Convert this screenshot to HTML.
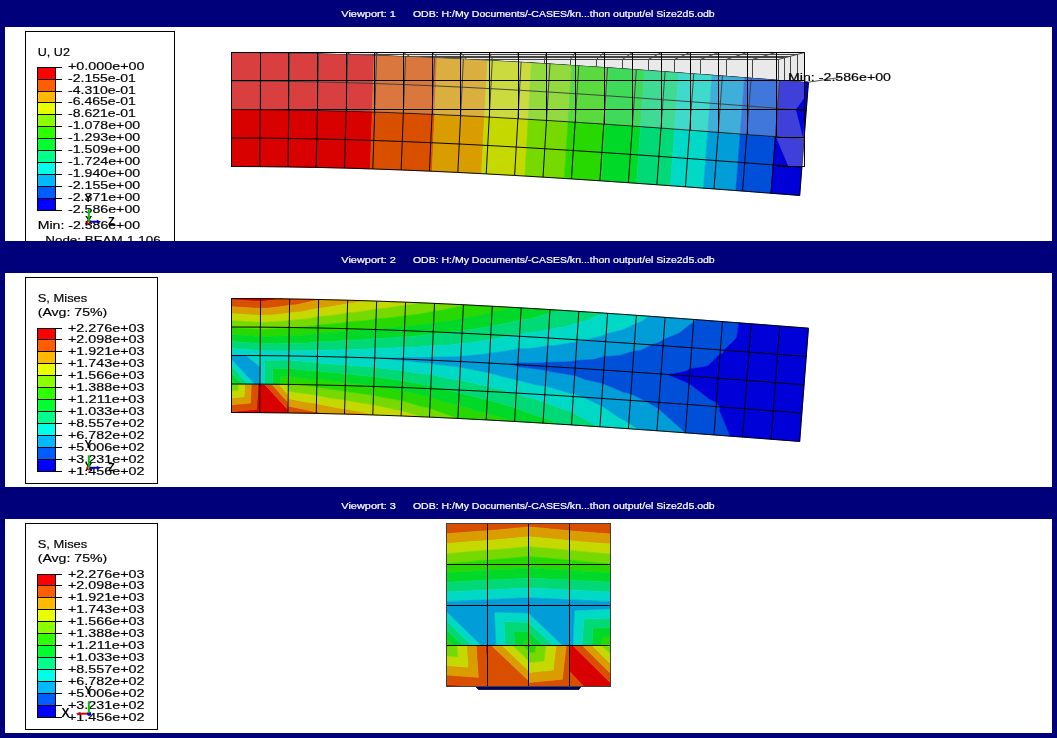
<!DOCTYPE html>
<html><head><meta charset="utf-8"><title>Abaqus viewports</title>
<style>
html,body{margin:0;padding:0;background:#00007b;}
body{width:1057px;height:738px;overflow:hidden;font-family:"Liberation Sans",sans-serif;}
svg{display:block;will-change:transform;font-family:"Liberation Sans",sans-serif;}
.hd{font-size:9.4px;fill:#ffffff;white-space:pre;stroke:#ffffff;stroke-width:0.22px;}
.lg{font-size:11.8px;fill:#000000;stroke:#000000;stroke-width:0.18px;}
.tr{font-size:11px;fill:#000000;font-weight:bold;}
</style></head><body>
<svg width="1057" height="738" viewBox="0 0 1057 738">
<defs><clipPath id="vp1"><rect x="5" y="27" width="1047" height="214"/></clipPath><clipPath id="vp2"><rect x="5" y="273" width="1047" height="214"/></clipPath><clipPath id="vp3"><rect x="5" y="519" width="1047" height="214"/></clipPath></defs>
<rect x="0" y="0" width="1057" height="738" fill="#00007b"/>
<rect x="5" y="27" width="1047" height="214" fill="#ffffff"/>
<rect x="5" y="273" width="1047" height="214" fill="#ffffff"/>
<rect x="5" y="519" width="1047" height="214" fill="#ffffff"/>
<text x="341.3" y="16.9" class="hd" textLength="54.6" lengthAdjust="spacingAndGlyphs">Viewport: 1</text>
<text x="412.9" y="16.9" class="hd" textLength="301.8" lengthAdjust="spacingAndGlyphs">ODB: H:/My Documents/-CASES/kn...thon output/el Size2d5.odb</text>
<text x="341.3" y="262.9" class="hd" textLength="54.6" lengthAdjust="spacingAndGlyphs">Viewport: 2</text>
<text x="412.9" y="262.9" class="hd" textLength="301.8" lengthAdjust="spacingAndGlyphs">ODB: H:/My Documents/-CASES/kn...thon output/el Size2d5.odb</text>
<text x="341.3" y="508.9" class="hd" textLength="54.6" lengthAdjust="spacingAndGlyphs">Viewport: 3</text>
<text x="412.9" y="508.9" class="hd" textLength="301.8" lengthAdjust="spacingAndGlyphs">ODB: H:/My Documents/-CASES/kn...thon output/el Size2d5.odb</text>
<g clip-path="url(#vp1)">
<path d="M231.5 52.5L260.58 52.62L260.36 81.11ZM231.5 52.5L260.36 81.11L231.5 81ZM231.5 81L260.36 81.11L260.15 109.61ZM231.5 81L260.15 109.61L231.5 109.5ZM231.5 109.5L260.15 109.61L259.94 138.1ZM231.5 109.5L259.94 138.1L231.5 138ZM231.5 138L259.94 138.1L259.72 166.6ZM231.5 138L259.72 166.6L231.5 166.5ZM260.58 52.62L289.63 52.95L289.21 81.44ZM260.58 52.62L289.21 81.44L260.36 81.11ZM260.36 81.11L289.21 81.44L288.8 109.92ZM260.36 81.11L288.8 109.92L260.15 109.61ZM260.15 109.61L288.8 109.92L288.38 138.41ZM260.15 109.61L288.38 138.41L259.94 138.1ZM259.94 138.1L288.38 138.41L287.96 166.9ZM259.94 138.1L287.96 166.9L259.72 166.6ZM289.63 52.95L318.65 53.49L318.05 81.96ZM289.63 52.95L318.05 81.96L289.21 81.44ZM289.21 81.44L318.05 81.96L317.44 110.44ZM289.21 81.44L317.44 110.44L288.8 109.92ZM288.8 109.92L317.44 110.44L316.83 138.92ZM288.8 109.92L316.83 138.92L288.38 138.41ZM288.38 138.41L316.83 138.92L316.23 167.39ZM288.38 138.41L316.23 167.39L287.96 166.9ZM318.65 53.49L347.66 54.21L346.87 82.67ZM318.65 53.49L346.87 82.67L318.05 81.96ZM318.05 81.96L346.87 82.67L346.08 111.14ZM318.05 81.96L346.08 111.14L317.44 110.44ZM317.44 110.44L346.08 111.14L345.3 139.61ZM317.44 110.44L345.3 139.61L316.83 138.92ZM316.83 138.92L345.3 139.61L344.51 168.07ZM316.83 138.92L344.51 168.07L316.23 167.39ZM347.66 54.21L374.12 55.03L373.24 81.01ZM347.66 54.21L373.24 81.01L373.18 83.49L346.87 82.67ZM346.87 82.67L373.18 83.49L372.3 109.47ZM346.87 82.67L372.3 109.47L372.23 111.94L346.08 111.14ZM346.08 111.14L372.23 111.94L371.36 137.93ZM346.08 111.14L371.36 137.93L371.29 140.4L345.3 139.61ZM345.3 139.61L371.29 140.4L370.42 166.38ZM345.3 139.61L370.42 166.38L370.35 168.85L344.51 168.07Z" fill="#d90000" stroke="#d90000" stroke-width="0.6" stroke-linejoin="round"/>
<path d="M374.12 55.03L376.63 55.11L375.68 83.56L373.24 81.01ZM373.24 81.01L375.68 83.56L373.18 83.49ZM373.18 83.49L375.68 83.56L374.72 112.02L372.3 109.47ZM372.3 109.47L374.72 112.02L372.23 111.94ZM372.23 111.94L374.72 112.02L373.77 140.47L371.36 137.93ZM371.36 137.93L373.77 140.47L371.29 140.4ZM371.29 140.4L373.77 140.47L372.81 168.93L370.42 166.38ZM370.42 166.38L372.81 168.93L370.35 168.85ZM376.63 55.11L405.59 56.17L404.47 84.62ZM376.63 55.11L404.47 84.62L375.68 83.56ZM375.68 83.56L404.47 84.62L403.36 113.06ZM375.68 83.56L403.36 113.06L374.72 112.02ZM374.72 112.02L403.36 113.06L402.24 141.5ZM374.72 112.02L402.24 141.5L373.77 140.47ZM373.77 140.47L402.24 141.5L401.13 169.95ZM373.77 140.47L401.13 169.95L372.81 168.93ZM405.59 56.17L434.52 57.39L433.26 85.82ZM405.59 56.17L433.26 85.82L404.47 84.62ZM404.47 84.62L433.26 85.82L431.99 114.26ZM404.47 84.62L431.99 114.26L403.36 113.06ZM403.36 113.06L431.99 114.26L430.73 142.69ZM403.36 113.06L430.73 142.69L402.24 141.5ZM402.24 141.5L430.73 142.69L429.47 171.12ZM402.24 141.5L429.47 171.12L401.13 169.95ZM434.52 57.39L437.28 57.52L437.15 60.24ZM434.52 57.39L437.15 60.24L436 85.95L433.26 85.82ZM433.26 85.82L436 85.95L435.87 88.67ZM433.26 85.82L435.87 88.67L434.73 114.38L431.99 114.26ZM431.99 114.26L434.73 114.38L434.6 117.1ZM431.99 114.26L434.6 117.1L433.45 142.81L430.73 142.69ZM430.73 142.69L433.45 142.81L433.32 145.53ZM430.73 142.69L433.32 145.53L432.18 171.25L429.47 171.12Z" fill="#d94f00" stroke="#d94f00" stroke-width="0.6" stroke-linejoin="round"/>
<path d="M437.28 57.52L463.42 58.75L462.03 87.17L437.15 60.24ZM437.15 60.24L462.03 87.17L436 85.95ZM436 85.95L462.03 87.17L460.63 115.59L435.87 88.67ZM435.87 88.67L460.63 115.59L434.73 114.38ZM434.73 114.38L460.63 115.59L459.23 144.01L434.6 117.1ZM434.6 117.1L459.23 144.01L433.45 142.81ZM433.45 142.81L459.23 144.01L457.83 172.43L433.32 145.53ZM433.32 145.53L457.83 172.43L432.18 171.25ZM463.42 58.75L487.6 60.01L486.33 83.79ZM463.42 58.75L486.33 83.79L486.1 88.42L462.03 87.17ZM462.03 87.17L486.1 88.42L484.82 112.2ZM462.03 87.17L484.82 112.2L484.6 116.83L460.63 115.59ZM460.63 115.59L484.6 116.83L483.32 140.61ZM460.63 115.59L483.32 140.61L483.09 145.24L459.23 144.01ZM459.23 144.01L483.09 145.24L481.82 169.02ZM459.23 144.01L481.82 169.02L481.59 173.65L457.83 172.43Z" fill="#d99d00" stroke="#d99d00" stroke-width="0.6" stroke-linejoin="round"/>
<path d="M487.6 60.01L492.31 60.25L490.78 88.66L486.33 83.79ZM486.33 83.79L490.78 88.66L486.1 88.42ZM486.1 88.42L490.78 88.66L489.26 117.06L484.82 112.2ZM484.82 112.2L489.26 117.06L484.6 116.83ZM484.6 116.83L489.26 117.06L487.73 145.47L483.32 140.61ZM483.32 140.61L487.73 145.47L483.09 145.24ZM483.09 145.24L487.73 145.47L486.21 173.88L481.82 169.02ZM481.82 169.02L486.21 173.88L481.59 173.65ZM492.31 60.25L521.16 61.86L519.53 90.26ZM492.31 60.25L519.53 90.26L490.78 88.66ZM490.78 88.66L519.53 90.26L517.89 118.66ZM490.78 88.66L517.89 118.66L489.26 117.06ZM489.26 117.06L517.89 118.66L516.25 147.05ZM489.26 117.06L516.25 147.05L487.73 145.47ZM487.73 145.47L516.25 147.05L514.61 175.45ZM487.73 145.47L514.61 175.45L486.21 173.88ZM521.16 61.86L531.52 62.48L530.89 72.68ZM521.16 61.86L530.89 72.68L529.84 90.88L519.53 90.26ZM519.53 90.26L529.84 90.88L529.22 101.07ZM519.53 90.26L529.22 101.07L528.17 119.27L517.89 118.66ZM517.89 118.66L528.17 119.27L527.54 129.46ZM517.89 118.66L527.54 129.46L526.49 147.66L516.25 147.05ZM516.25 147.05L526.49 147.66L525.87 157.85ZM516.25 147.05L525.87 157.85L524.82 176.05L514.61 175.45Z" fill="#c5d900" stroke="#c5d900" stroke-width="0.6" stroke-linejoin="round"/>
<path d="M531.52 62.48L550 63.59L548.26 91.97L530.89 72.68ZM530.89 72.68L548.26 91.97L529.84 90.88ZM529.84 90.88L548.26 91.97L546.51 120.36L529.22 101.07ZM529.22 101.07L546.51 120.36L528.17 119.27ZM528.17 119.27L546.51 120.36L544.77 148.74L527.54 129.46ZM527.54 129.46L544.77 148.74L526.49 147.66ZM526.49 147.66L544.77 148.74L543.03 177.13L525.87 157.85ZM525.87 157.85L543.03 177.13L524.82 176.05ZM550 63.59L571.63 64.96L570.25 86.26ZM550 63.59L570.25 86.26L569.82 93.33L548.26 91.97ZM548.26 91.97L569.82 93.33L568.44 114.63ZM548.26 91.97L568.44 114.63L568 121.71L546.51 120.36ZM546.51 120.36L568 121.71L566.63 143.01ZM546.51 120.36L566.63 143.01L566.19 150.08L544.77 148.74ZM544.77 148.74L566.19 150.08L564.81 171.39ZM544.77 148.74L564.81 171.39L564.38 178.46L543.03 177.13Z" fill="#76d900" stroke="#76d900" stroke-width="0.6" stroke-linejoin="round"/>
<path d="M571.63 64.96L578.81 65.41L576.97 93.78L570.25 86.26ZM570.25 86.26L576.97 93.78L569.82 93.33ZM569.82 93.33L576.97 93.78L575.14 122.16L568.44 114.63ZM568.44 114.63L575.14 122.16L568 121.71ZM568 121.71L575.14 122.16L573.3 150.53L566.63 143.01ZM566.63 143.01L573.3 150.53L566.19 150.08ZM566.19 150.08L573.3 150.53L571.47 178.9L564.81 171.39ZM564.81 171.39L571.47 178.9L564.38 178.46ZM578.81 65.41L607.59 67.32L605.68 95.68ZM578.81 65.41L605.68 95.68L576.97 93.78ZM576.97 93.78L605.68 95.68L603.76 124.05ZM576.97 93.78L603.76 124.05L575.14 122.16ZM575.14 122.16L603.76 124.05L601.84 152.41ZM575.14 122.16L601.84 152.41L573.3 150.53ZM573.3 150.53L601.84 152.41L599.93 180.77ZM573.3 150.53L599.93 180.77L571.47 178.9ZM607.59 67.32L609.13 67.43L609.03 68.95ZM607.59 67.32L609.03 68.95L607.21 95.79L605.68 95.68ZM605.68 95.68L607.21 95.79L607.11 97.31ZM605.68 95.68L607.11 97.31L605.29 124.15L603.76 124.05ZM603.76 124.05L605.29 124.15L605.18 125.67ZM603.76 124.05L605.18 125.67L603.37 152.51L601.84 152.41ZM601.84 152.41L603.37 152.51L603.26 154.03ZM601.84 152.41L603.26 154.03L601.45 180.87L599.93 180.77Z" fill="#27d900" stroke="#27d900" stroke-width="0.6" stroke-linejoin="round"/>
<path d="M609.13 67.43L636.35 69.31L634.37 97.66L609.03 68.95ZM609.03 68.95L634.37 97.66L607.21 95.79ZM607.21 95.79L634.37 97.66L632.38 126.01L607.11 97.31ZM607.11 97.31L632.38 126.01L605.29 124.15ZM605.29 124.15L632.38 126.01L630.39 154.36L605.18 125.67ZM605.18 125.67L630.39 154.36L603.37 152.51ZM603.37 152.51L630.39 154.36L628.4 182.71L603.26 154.03ZM603.26 154.03L628.4 182.71L601.45 180.87ZM636.35 69.31L644.59 69.9L644 78.02ZM636.35 69.31L644 78.02L642.59 98.24L634.37 97.66ZM634.37 97.66L642.59 98.24L642 106.37ZM634.37 97.66L642 106.37L640.58 126.59L632.38 126.01ZM632.38 126.01L640.58 126.59L639.99 134.71ZM632.38 126.01L639.99 134.71L638.58 154.94L630.39 154.36ZM630.39 154.36L638.58 154.94L637.99 163.06ZM630.39 154.36L637.99 163.06L636.57 183.29L628.4 182.71Z" fill="#00d927" stroke="#00d927" stroke-width="0.6" stroke-linejoin="round"/>
<path d="M644.59 69.9L665.09 71.36L663.04 99.7L644 78.02ZM644 78.02L663.04 99.7L642.59 98.24ZM642.59 98.24L663.04 99.7L661 128.04L642 106.37ZM642 106.37L661 128.04L640.58 126.59ZM640.58 126.59L661 128.04L658.95 156.38L639.99 134.71ZM639.99 134.71L658.95 156.38L638.58 154.94ZM638.58 154.94L658.95 156.38L656.9 184.72L637.99 163.06ZM637.99 163.06L656.9 184.72L636.57 183.29ZM665.09 71.36L678.76 72.36L677.76 85.85ZM665.09 71.36L677.76 85.85L676.69 100.7L663.04 99.7ZM663.04 99.7L676.69 100.7L675.69 114.18ZM663.04 99.7L675.69 114.18L674.62 129.03L661 128.04ZM661 128.04L674.62 129.03L673.62 142.52ZM661 128.04L673.62 142.52L672.55 157.37L658.95 156.38ZM658.95 156.38L672.55 157.37L671.55 170.86ZM658.95 156.38L671.55 170.86L670.48 185.71L656.9 184.72Z" fill="#00d976" stroke="#00d976" stroke-width="0.6" stroke-linejoin="round"/>
<path d="M678.76 72.36L693.81 73.46L691.71 101.8L677.76 85.85ZM677.76 85.85L691.71 101.8L676.69 100.7ZM676.69 100.7L691.71 101.8L689.61 130.13L675.69 114.18ZM675.69 114.18L689.61 130.13L674.62 129.03ZM674.62 129.03L689.61 130.13L687.52 158.46L673.62 142.52ZM673.62 142.52L687.52 158.46L672.55 157.37ZM672.55 157.37L687.52 158.46L685.42 186.79L671.55 170.86ZM671.55 170.86L685.42 186.79L670.48 185.71ZM693.81 73.46L711.98 74.82L710.62 92.76ZM693.81 73.46L710.62 92.76L709.86 103.15L691.71 101.8ZM691.71 101.8L709.86 103.15L708.5 121.09ZM691.71 101.8L708.5 121.09L707.73 131.48L689.61 130.13ZM689.61 130.13L707.73 131.48L706.38 149.42ZM689.61 130.13L706.38 149.42L705.61 159.8L687.52 158.46ZM687.52 158.46L705.61 159.8L704.26 177.74ZM687.52 158.46L704.26 177.74L703.49 188.13L685.42 186.79Z" fill="#00d9c5" stroke="#00d9c5" stroke-width="0.6" stroke-linejoin="round"/>
<path d="M711.98 74.82L722.49 75.61L720.36 103.93L710.62 92.76ZM710.62 92.76L720.36 103.93L709.86 103.15ZM709.86 103.15L720.36 103.93L718.22 132.26L708.5 121.09ZM708.5 121.09L718.22 132.26L707.73 131.48ZM707.73 131.48L718.22 132.26L716.09 160.58L706.38 149.42ZM706.38 149.42L716.09 160.58L705.61 159.8ZM705.61 159.8L716.09 160.58L713.96 188.9L704.26 177.74ZM704.26 177.74L713.96 188.9L703.49 188.13ZM722.49 75.61L744.51 77.28L742.85 99.03ZM722.49 75.61L742.85 99.03L742.35 105.6L720.36 103.93ZM720.36 103.93L742.35 105.6L740.69 127.35ZM720.36 103.93L740.69 127.35L740.2 133.92L718.22 132.26ZM718.22 132.26L740.2 133.92L738.54 155.66ZM718.22 132.26L738.54 155.66L738.04 162.24L716.09 160.58ZM716.09 160.58L738.04 162.24L736.38 183.98ZM716.09 160.58L736.38 183.98L735.89 190.55L713.96 188.9Z" fill="#009dd9" stroke="#009dd9" stroke-width="0.6" stroke-linejoin="round"/>
<path d="M744.51 77.28L751.16 77.79L749 106.1L742.85 99.03ZM742.85 99.03L749 106.1L742.35 105.6ZM742.35 105.6L749 106.1L746.84 134.42L740.69 127.35ZM740.69 127.35L746.84 134.42L740.2 133.92ZM740.2 133.92L746.84 134.42L744.67 162.74L738.54 155.66ZM738.54 155.66L744.67 162.74L738.04 162.24ZM738.04 162.24L744.67 162.74L742.51 191.05L736.38 183.98ZM736.38 183.98L742.51 191.05L735.89 190.55ZM751.16 77.79L779.8 79.99L777.62 108.3ZM751.16 77.79L777.62 108.3L749 106.1ZM749 106.1L777.62 108.3L775.44 136.6ZM749 106.1L775.44 136.6L746.84 134.42ZM746.84 134.42L775.44 136.6L773.27 164.91ZM746.84 134.42L773.27 164.91L744.67 162.74ZM744.67 162.74L773.27 164.91L771.09 193.22ZM744.67 162.74L771.09 193.22L742.51 191.05Z" fill="#004fd9" stroke="#004fd9" stroke-width="0.6" stroke-linejoin="round"/>
<path d="M779.8 79.99L779.8 79.99L777.62 108.3L777.62 108.3ZM777.62 108.3L777.62 108.3L777.62 108.3ZM777.62 108.3L777.62 108.3L775.44 136.6L775.44 136.6ZM775.44 136.6L775.44 136.6L775.44 136.6ZM775.44 136.6L775.44 136.6L773.27 164.91L773.27 164.91ZM773.27 164.91L773.27 164.91L773.27 164.91ZM773.27 164.91L773.27 164.91L771.09 193.22L771.09 193.22ZM771.09 193.22L771.09 193.22L771.09 193.22ZM779.8 79.99L808.42 82.19L806.23 110.5ZM779.8 79.99L806.23 110.5L777.62 108.3ZM777.62 108.3L806.23 110.5L804.05 138.8ZM777.62 108.3L804.05 138.8L775.44 136.6ZM775.44 136.6L804.05 138.8L801.87 167.1ZM775.44 136.6L801.87 167.1L773.27 164.91ZM773.27 164.91L801.87 167.1L799.68 195.41ZM773.27 164.91L799.68 195.41L771.09 193.22Z" fill="#0000d9" stroke="#0000d9" stroke-width="0.6" stroke-linejoin="round"/>
<path d="M231.5 52.5L260.58 52.62L289.63 52.95L318.65 53.49L347.66 54.21L376.63 55.11L405.59 56.17L434.52 57.39L463.42 58.75L492.31 60.25L521.16 61.86L550 63.59L578.81 65.41L607.59 67.32L636.35 69.31L665.09 71.36L693.81 73.46L722.49 75.61L751.16 77.79L779.8 79.99L808.42 82.19M231.5 81L260.36 81.11L289.21 81.44L318.05 81.96L346.87 82.67L375.68 83.56L404.47 84.62L433.26 85.82L462.03 87.17L490.78 88.66L519.53 90.26L548.26 91.97L576.97 93.78L605.68 95.68L634.37 97.66L663.04 99.7L691.71 101.8L720.36 103.93L749 106.1L777.62 108.3L806.23 110.5M231.5 109.5L260.15 109.61L288.8 109.92L317.44 110.44L346.08 111.14L374.72 112.02L403.36 113.06L431.99 114.26L460.63 115.59L489.26 117.06L517.89 118.66L546.51 120.36L575.14 122.16L603.76 124.05L632.38 126.01L661 128.04L689.61 130.13L718.22 132.26L746.84 134.42L775.44 136.6L804.05 138.8M231.5 138L259.94 138.1L288.38 138.41L316.83 138.92L345.3 139.61L373.77 140.47L402.24 141.5L430.73 142.69L459.23 144.01L487.73 145.47L516.25 147.05L544.77 148.74L573.3 150.53L601.84 152.41L630.39 154.36L658.95 156.38L687.52 158.46L716.09 160.58L744.67 162.74L773.27 164.91L801.87 167.1M231.5 166.5L259.72 166.6L287.96 166.9L316.23 167.39L344.51 168.07L372.81 168.93L401.13 169.95L429.47 171.12L457.83 172.43L486.21 173.88L514.61 175.45L543.03 177.13L571.47 178.9L599.93 180.77L628.4 182.71L656.9 184.72L685.42 186.79L713.96 188.9L742.51 191.05L771.09 193.22L799.68 195.41M231.5 52.5L231.5 166.5M260.58 52.62L259.72 166.6M289.63 52.95L287.96 166.9M318.65 53.49L316.23 167.39M347.66 54.21L344.51 168.07M376.63 55.11L372.81 168.93M405.59 56.17L401.13 169.95M434.52 57.39L429.47 171.12M463.42 58.75L457.83 172.43M492.31 60.25L486.21 173.88M521.16 61.86L514.61 175.45M550 63.59L543.03 177.13M578.81 65.41L571.47 178.9M607.59 67.32L599.93 180.77M636.35 69.31L628.4 182.71M665.09 71.36L656.9 184.72M693.81 73.46L685.42 186.79M722.49 75.61L713.96 188.9M751.16 77.79L742.51 191.05M779.8 79.99L771.09 193.22M808.42 82.19L799.68 195.41" stroke="#000" stroke-width="1" fill="none" opacity="0.95"/>
<clipPath id="ovc"><polygon points="231.5,52.5 804.5,52.5 804.5,138.5 804.05,138.8 775.44,136.6 746.84,134.42 718.22,132.26 689.61,130.13 661,128.04 632.38,126.01 603.76,124.05 575.14,122.16 546.51,120.36 517.89,118.66 489.26,117.06 460.63,115.59 431.99,114.26 403.36,113.06 374.72,112.02 346.08,111.14 317.44,110.44 288.8,109.92 260.15,109.61 231.5,109.5"/><polygon points="777.05,136.8 805.5,136.8 805.5,167.5 777.05,167.5"/></clipPath>
<path d="M231.5 52.5L260.58 52.62L289.63 52.95L318.65 53.49L347.66 54.21L376.63 55.11L405.59 56.17L434.52 57.39L463.42 58.75L492.31 60.25L521.16 61.86L550 63.59L578.81 65.41L607.59 67.32L636.35 69.31L665.09 71.36L693.81 73.46L722.49 75.61L751.16 77.79L779.8 79.99L804.5 82L804.5 138.8L804.05 138.8L775.44 136.6L746.84 134.42L718.22 132.26L689.61 130.13L661 128.04L632.38 126.01L603.76 124.05L575.14 122.16L546.51 120.36L517.89 118.66L489.26 117.06L460.63 115.59L431.99 114.26L403.36 113.06L374.72 112.02L346.08 111.14L317.44 110.44L288.8 109.92L260.15 109.61L231.5 109.5ZM804.5 98L796 109.3L804.5 109.9ZM796 109.7L804.5 110.3L803.2 138Z" fill="#dddddd" fill-opacity="0.285" fill-rule="evenodd"/>
<polygon points="776.35,138 804.5,138 804.5,166.5 788.35,166.5" fill="#dddddd" fill-opacity="0.285"/>
<clipPath id="wdg"><polygon points="231.5,52.5 804.5,52.5 804.5,82 808.42,82.19 779.8,79.99 751.16,77.79 722.49,75.61 693.81,73.46 665.09,71.36 636.35,69.31 607.59,67.32 578.81,65.41 550,63.59 521.16,61.86 492.31,60.25 463.42,58.75 434.52,57.39 405.59,56.17 376.63,55.11 347.66,54.21 318.65,53.49 289.63,52.95 260.58,52.62 231.5,52.5"/></clipPath>
<g clip-path="url(#wdg)">
<polygon points="231.5,52.5 804.5,52.5 804.5,82 808.42,82.19 779.8,79.99 751.16,77.79 722.49,75.61 693.81,73.46 665.09,71.36 636.35,69.31 607.59,67.32 578.81,65.41 550,63.59 521.16,61.86 492.31,60.25 463.42,58.75 434.52,57.39 405.59,56.17 376.63,55.11 347.66,54.21 318.65,53.49 289.63,52.95 260.58,52.62 231.5,52.5" fill="#e9e9e9"/>
<path d="M238.83 54.5H797.42M245.8 56.5H790.69M252.44 57.5H784.28M258.77 59.5H778.17" stroke="#444444" stroke-width="1" fill="none" shape-rendering="crispEdges"/>
<path d="M231.5 52.5L258.77 59.5M258.5 59.5V166.5M260.15 52.5L284.74 59.5M284.5 59.5V166.5M288.8 52.5L310.71 59.5M310.5 59.5V166.5M317.45 52.5L336.68 59.5M336.5 59.5V166.5M346.1 52.5L362.65 59.5M362.5 59.5V166.5M374.75 52.5L388.62 59.5M388.5 59.5V166.5M403.4 52.5L414.59 59.5M414.5 59.5V166.5M432.05 52.5L440.56 59.5M440.5 59.5V166.5M460.7 52.5L466.53 59.5M466.5 59.5V166.5M489.35 52.5L492.5 59.5M492.5 59.5V166.5M518 52.5L518.47 59.5M518.5 59.5V166.5M546.65 52.5L544.44 59.5M544.5 59.5V166.5M575.3 52.5L570.41 59.5M570.5 59.5V166.5M603.95 52.5L596.38 59.5M596.5 59.5V166.5M632.6 52.5L622.35 59.5M622.5 59.5V166.5M661.25 52.5L648.32 59.5M648.5 59.5V166.5M689.9 52.5L674.29 59.5M674.5 59.5V166.5M718.55 52.5L700.26 59.5M700.5 59.5V166.5M747.2 52.5L726.23 59.5M726.5 59.5V166.5M775.85 52.5L752.2 59.5M752.5 59.5V166.5M804.5 52.5L778.17 59.5M778.5 59.5V166.5M797.5 54.5V166.5M790.5 56.5V166.5M784.5 57.5V166.5" stroke="#444444" stroke-width="1" fill="none"/>
</g>
<path d="M231 52.5H805M231 80.5H805M231 109.5H805M231 137.5H805M231 166.5H805M231.5 52V167M260.5 52V167M288.5 52V167M317.5 52V167M346.5 52V167M374.5 52V167M403.5 52V167M432.5 52V167M460.5 52V167M489.5 52V167M518.5 52V167M546.5 52V167M575.5 52V167M604.5 52V167M632.5 52V167M661.5 52V167M690.5 52V167M718.5 52V167M747.5 52V167M776.5 52V167M804.5 52V167" stroke="#000" stroke-width="1" fill="none" clip-path="url(#ovc)"/>
<path d="M231 52.5H804.5V167" stroke="#000" stroke-width="1" fill="none"/>
<path d="M231.5 52.5V167" stroke="#000" stroke-width="1" fill="none"/>
<path d="M808.42 82.19L840 77.4" stroke="#404040" stroke-width="0.9"/>
<text x="788.0" y="80.9" class="lg" textLength="103" lengthAdjust="spacingAndGlyphs">Min: -2.586e+00</text>
<rect x="25.5" y="31.5" width="149" height="230" fill="#ffffff" stroke="#000" stroke-width="1"/>
<text x="37.7" y="55.8" class="lg" textLength="32.2" lengthAdjust="spacingAndGlyphs">U, U2</text>
<rect x="37.5" y="67.5" width="18" height="12.1" fill="#ff0000"/>
<rect x="37.5" y="79.5" width="18" height="12.1" fill="#ff5d00"/>
<rect x="37.5" y="91.5" width="18" height="11.1" fill="#ffb900"/>
<rect x="37.5" y="102.5" width="18" height="12.1" fill="#e8ff00"/>
<rect x="37.5" y="114.5" width="18" height="12.1" fill="#8bff00"/>
<rect x="37.5" y="126.5" width="18" height="12.1" fill="#2eff00"/>
<rect x="37.5" y="138.5" width="18" height="12.1" fill="#00ff2e"/>
<rect x="37.5" y="150.5" width="18" height="12.1" fill="#00ff8b"/>
<rect x="37.5" y="162.5" width="18" height="12.1" fill="#00ffe8"/>
<rect x="37.5" y="174.5" width="18" height="12.1" fill="#00b9ff"/>
<rect x="37.5" y="186.5" width="18" height="12.1" fill="#005dff"/>
<rect x="37.5" y="198.5" width="18" height="12.1" fill="#0000ff"/>
<path d="M37.5 67V211M55.5 67V211M37 67.5H62M37 79.5H62M37 91.5H62M37 102.5H62M37 114.5H62M37 126.5H62M37 138.5H62M37 150.5H62M37 162.5H62M37 174.5H62M37 186.5H62M37 198.5H62M37 210.5H62" stroke="#000" stroke-width="1" fill="none"/>
<text x="68" y="70.35" class="lg" textLength="76.5" lengthAdjust="spacingAndGlyphs">+0.000e+00</text>
<text x="68" y="82.35" class="lg" textLength="67.9" lengthAdjust="spacingAndGlyphs">-2.155e-01</text>
<text x="68" y="94.35" class="lg" textLength="67.9" lengthAdjust="spacingAndGlyphs">-4.310e-01</text>
<text x="68" y="105.35" class="lg" textLength="67.9" lengthAdjust="spacingAndGlyphs">-6.465e-01</text>
<text x="68" y="117.35" class="lg" textLength="67.9" lengthAdjust="spacingAndGlyphs">-8.621e-01</text>
<text x="68" y="129.35" class="lg" textLength="72.2" lengthAdjust="spacingAndGlyphs">-1.078e+00</text>
<text x="68" y="141.35" class="lg" textLength="72.2" lengthAdjust="spacingAndGlyphs">-1.293e+00</text>
<text x="68" y="153.35" class="lg" textLength="72.2" lengthAdjust="spacingAndGlyphs">-1.509e+00</text>
<text x="68" y="165.35" class="lg" textLength="72.2" lengthAdjust="spacingAndGlyphs">-1.724e+00</text>
<text x="68" y="177.35" class="lg" textLength="72.2" lengthAdjust="spacingAndGlyphs">-1.940e+00</text>
<text x="68" y="189.35" class="lg" textLength="72.2" lengthAdjust="spacingAndGlyphs">-2.155e+00</text>
<text x="68" y="201.35" class="lg" textLength="72.2" lengthAdjust="spacingAndGlyphs">-2.371e+00</text>
<text x="68" y="213.35" class="lg" textLength="72.2" lengthAdjust="spacingAndGlyphs">-2.586e+00</text>
<text x="37.7" y="228.8" class="lg" textLength="102.3" lengthAdjust="spacingAndGlyphs">Min: -2.586e+00</text>
<text x="45.3" y="243.5" class="lg" textLength="115.3" lengthAdjust="spacingAndGlyphs">Node: BEAM-1.106</text>
<text x="84.9" y="224.4" class="tr">X</text>
<circle cx="88.6" cy="222" r="1.7" fill="none" stroke="#e80000" stroke-width="1.2"/>
<path d="M88.8 221.7H97.8" stroke="#0000c8" stroke-width="2"/>
<path d="M101.2 221.7l-4.4 -1.9v3.8z" fill="#0000c8"/>
<path d="M88.8 222.2V209.2" stroke="#00c400" stroke-width="2"/>
<text x="84.4" y="201.5" class="tr">Y</text>
<text x="108" y="224.6" class="tr">Z</text>
</g>
<g clip-path="url(#vp2)">
<path d="M231.5 298.5L260.58 298.62L260.55 301.44L232.78 299.77ZM231.5 298.5L232.78 299.77L231.5 299.69ZM257.95 384.09L259.94 384.1L259.72 412.6L256.59 409.42ZM256.59 409.42L259.72 412.6L231.5 412.5L231.5 411.8ZM260.58 298.62L282.5 298.87L263.23 301.29ZM260.58 298.62L263.23 301.29L260.55 301.44ZM259.94 384.1L264.56 384.15L288.01 409.86L287.96 412.9ZM259.94 384.1L287.96 412.9L259.72 412.6Z" fill="#d90000" stroke="#d90000" stroke-width="0.6" stroke-linejoin="round"/>
<path d="M260.55 301.44L260.5 308.47L240.34 307.26L232.78 299.77ZM232.78 299.77L240.34 307.26L231.5 306.66L231.5 299.69ZM251.34 384.07L257.95 384.09L256.59 409.42L250.32 403.06ZM250.32 403.06L256.59 409.42L231.5 411.8L231.5 404.85ZM282.5 298.87L289.63 298.95L289.53 305.5L269.87 307.97L263.23 301.29ZM263.23 301.29L269.87 307.97L260.5 308.47L260.55 301.44ZM264.56 384.15L271.67 384.23L288.12 402.26L288.01 409.86ZM289.63 298.95L318.65 299.49L318.64 299.91L295.49 304.93ZM289.63 298.95L295.49 304.93L289.53 305.5ZM316.26 411.72L316.23 413.39L314.4 411.49ZM314.4 411.49L316.23 413.39L287.96 412.9L288.06 406.06ZM318.65 299.49L320.88 299.54L319.03 299.87ZM318.65 299.49L319.03 299.87L318.64 299.91ZM325.65 413.62L316.23 413.39L316.26 411.75Z" fill="#d94f00" stroke="#d94f00" stroke-width="0.6" stroke-linejoin="round"/>
<path d="M260.5 308.47L260.45 315.51L247.9 314.75L240.34 307.26ZM240.34 307.26L247.9 314.75L231.5 313.64L231.5 306.66ZM244.73 384.05L251.34 384.07L250.32 403.06L244.04 396.71ZM244.04 396.71L250.32 403.06L231.5 404.85L231.5 397.9ZM289.53 305.5L289.42 313.03L276.5 314.65L269.87 307.97ZM269.87 307.97L276.5 314.65L260.45 315.51L260.5 308.47ZM271.67 384.23L278.78 384.31L288.23 394.67L288.12 402.26ZM318.64 299.91L318.47 308.28L302.22 311.81L295.49 304.93ZM295.49 304.93L302.22 311.81L289.42 313.03L289.53 305.5ZM316.44 403.34L316.26 411.72L314.4 411.49L305.27 401.99ZM305.27 401.99L314.4 411.49L288.06 406.06L288.18 398.46ZM320.88 299.54L347.66 300.21L347.55 303.85L326.5 307.61L319.03 299.87ZM319.03 299.87L326.5 307.61L318.47 308.28L318.64 299.91ZM344.65 408.78L344.51 414.07L338.73 407.99ZM338.73 407.99L344.51 414.07L325.65 413.62L316.26 411.75L316.44 403.56ZM347.66 300.21L366.97 300.81L350.87 303.58ZM347.66 300.21L350.87 303.58L347.55 303.85ZM372.84 413.99L372.81 414.93L371.8 413.85ZM371.8 413.85L372.81 414.93L344.51 414.07L344.65 408.78ZM377.96 415.11L372.81 414.93L372.84 413.99Z" fill="#d99d00" stroke="#d99d00" stroke-width="0.6" stroke-linejoin="round"/>
<path d="M260.45 315.51L260.4 322.54L255.45 322.25L247.9 314.75ZM247.9 314.75L255.45 322.25L231.5 320.62L231.5 313.64ZM238.11 384.02L244.73 384.05L244.04 396.71L237.77 390.35ZM237.77 390.35L244.04 396.71L231.5 397.9L231.5 390.95ZM289.42 313.03L289.31 320.55L283.14 321.33L276.5 314.65ZM276.5 314.65L283.14 321.33L260.4 322.54L260.45 315.51ZM278.78 384.31L285.89 384.38L288.34 387.07L288.23 394.67ZM318.47 308.28L318.29 316.66L308.95 318.68L302.22 311.81ZM302.22 311.81L308.95 318.68L289.31 320.55L289.42 313.03ZM316.62 394.97L316.44 403.34L305.27 401.99L296.14 392.49ZM296.14 392.49L305.27 401.99L288.18 398.46L288.29 390.87ZM347.55 303.85L347.3 312.96L333.98 315.34L326.5 307.61ZM326.5 307.61L333.98 315.34L318.29 316.66L318.47 308.28ZM344.9 399.95L344.65 408.78L338.73 407.99L329.11 397.85ZM329.11 397.85L338.73 407.99L316.44 403.56L316.61 395.36ZM366.97 300.81L376.63 301.11L376.37 309L358.91 312L350.87 303.58ZM350.87 303.58L358.91 312L347.3 312.96L347.55 303.85ZM373.16 404.62L372.84 413.99L371.8 413.85L361.7 403.09ZM361.7 403.09L371.8 413.85L344.65 408.78L344.9 399.95ZM376.63 301.11L405.59 302.17L405.47 305.31L383.56 308.45ZM376.63 301.11L383.56 308.45L376.37 309ZM401.35 410.44L401.13 415.95L395.07 409.42ZM395.07 409.42L401.13 415.95L377.96 415.11L372.84 413.99L373.16 404.62ZM405.59 302.17L419.59 302.76L408.27 305.04ZM405.59 302.17L408.27 305.04L405.47 305.31ZM421.91 416.81L401.13 415.95L401.35 410.44Z" fill="#c5d900" stroke="#c5d900" stroke-width="0.6" stroke-linejoin="round"/>
<path d="M260.4 322.54L260.36 327.11L255.45 322.25ZM255.45 322.25L260.36 327.11L231.5 327L231.5 320.62ZM231.5 327L260.36 327.11L260.34 329.58L232.14 327.64ZM231.5 327L232.14 327.64L231.5 327.59ZM231.5 384L238.11 384.02L237.77 390.35ZM231.5 384L237.77 390.35L231.5 390.95ZM289.31 320.55L289.21 327.44L283.14 321.33ZM283.14 321.33L289.21 327.44L260.36 327.11L260.4 322.54ZM260.36 327.11L289.21 327.44L289.2 328.08L262.82 329.6ZM260.36 327.11L262.82 329.6L260.34 329.58ZM285.89 384.38L288.38 384.41L288.34 387.07ZM318.29 316.66L318.11 325.03L315.69 325.56L308.95 318.68ZM308.95 318.68L315.69 325.56L294.85 327.54L289.21 327.44L289.31 320.55ZM289.21 327.44L294.85 327.54L289.84 328.08ZM289.21 327.44L289.84 328.08L289.2 328.08ZM288.38 384.41L300.57 384.63L316.8 386.59L316.62 394.97L296.14 392.49ZM288.38 384.41L296.14 392.49L288.29 390.87ZM347.3 312.96L347.05 322.07L341.45 323.07L333.98 315.34ZM333.98 315.34L341.45 323.07L318.11 325.03L318.29 316.66ZM345.14 391.12L344.9 399.95L329.11 397.85L319.48 387.7ZM319.48 387.7L329.11 397.85L316.61 395.36L316.79 387.17ZM376.37 309L376.04 318.86L366.95 320.42L358.91 312ZM358.91 312L366.95 320.42L347.05 322.07L347.3 312.96ZM373.47 395.24L373.16 404.62L361.7 403.09L351.61 392.33ZM351.61 392.33L361.7 403.09L344.9 399.95L345.14 391.12ZM405.47 305.31L405.05 315.79L392.22 317.63L383.56 308.45ZM383.56 308.45L392.22 317.63L376.04 318.86L376.37 309ZM401.74 400.42L401.35 410.44L395.07 409.42L384.06 397.56ZM384.06 397.56L395.07 409.42L373.16 404.62L373.47 395.24ZM419.59 302.76L434.52 303.39L434.17 311.19L417.19 314.61L408.27 305.04ZM408.27 305.04L417.19 314.61L405.05 315.79L405.47 305.31ZM429.87 408.17L429.47 417.12L419.05 405.78ZM419.05 405.78L429.47 417.12L421.91 416.81L401.35 410.44L401.74 400.42ZM434.52 303.39L463.42 304.75L463.39 305.39L441.05 310.46ZM434.52 303.39L441.05 310.46L434.17 311.19ZM457.83 418.43L457.83 418.43L457.83 418.43ZM457.83 418.43L457.83 418.43L429.47 417.12L429.87 408.17ZM463.42 304.75L465.83 304.88L463.93 305.31ZM463.42 304.75L463.93 305.31L463.39 305.39ZM457.83 418.43L457.83 418.43L457.83 418.43Z" fill="#76d900" stroke="#76d900" stroke-width="0.6" stroke-linejoin="round"/>
<path d="M260.34 329.58L260.29 336.61L239.71 335.2L232.14 327.64ZM232.14 327.64L239.71 335.2L231.5 334.57L231.5 327.59ZM235.38 384.01L231.5 384L231.5 379.88ZM289.2 328.08L289.09 335.6L269.84 336.72L262.82 329.6ZM262.82 329.6L269.84 336.72L260.29 336.61L260.34 329.58ZM288.49 376.57L288.38 384.41L280.72 376.59ZM280.72 376.59L288.38 384.41L280.66 384.33ZM318.11 325.03L318.05 327.96L315.69 325.56ZM315.69 325.56L318.05 327.96L294.85 327.54ZM294.85 327.54L318.05 327.96L317.93 333.41L297.2 335.64L289.84 328.08ZM289.84 328.08L297.2 335.64L289.09 335.6L289.2 328.08ZM316.94 379.74L316.83 384.92L311.41 379.3ZM311.41 379.3L316.83 384.92L288.38 384.41L288.49 376.57ZM300.57 384.63L316.83 384.92L316.8 386.59ZM347.05 322.07L346.87 328.67L341.45 323.07ZM341.45 323.07L346.87 328.67L318.05 327.96L318.11 325.03ZM318.05 327.96L346.87 328.67L346.8 331.18L323.25 333.38ZM318.05 327.96L323.25 333.38L317.93 333.41ZM345.39 382.3L345.3 385.61L341.95 382.11ZM341.95 382.11L345.3 385.61L316.83 384.92L316.96 378.97ZM316.83 384.92L345.3 385.61L345.14 391.12L319.48 387.7ZM316.83 384.92L319.48 387.7L316.79 387.17ZM376.04 318.86L375.71 328.72L374.99 328.85L366.95 320.42ZM366.95 320.42L374.99 328.85L368.88 329.35L346.87 328.67L347.05 322.07ZM346.87 328.67L368.88 329.35L349.23 331.16ZM346.87 328.67L349.23 331.16L346.8 331.18ZM373.79 385.86L373.77 386.47L373.15 385.82ZM373.15 385.82L373.77 386.47L345.3 385.61L345.39 382.3ZM345.3 385.61L373.77 386.47L373.47 395.24L351.61 392.33ZM345.3 385.61L351.61 392.33L345.14 391.12ZM405.05 315.79L404.64 326.27L400.88 326.81L392.22 317.63ZM392.22 317.63L400.88 326.81L375.71 328.72L376.04 318.86ZM378.98 386.66L373.77 386.47L373.79 385.86ZM373.77 386.47L378.98 386.66L402.13 390.41L401.74 400.42L384.06 397.56ZM373.77 386.47L384.06 397.56L373.47 395.24ZM434.17 311.19L433.66 322.65L426.12 324.17L417.19 314.61ZM417.19 314.61L426.12 324.17L404.64 326.27L405.05 315.79ZM430.37 396.97L429.87 408.17L419.05 405.78L406.02 391.61ZM406.02 391.61L419.05 405.78L401.74 400.42L402.13 390.41ZM463.39 305.39L462.77 318.11L450.65 320.86L441.05 310.46ZM441.05 310.46L450.65 320.86L433.66 322.65L434.17 311.19ZM458.46 405.57L457.83 418.43L442.26 401.34ZM442.26 401.34L457.83 418.43L457.83 418.43L429.87 408.17L430.37 396.97ZM465.83 304.88L492.31 306.25L491.98 312.38L474.12 316.45L463.93 305.31ZM463.93 305.31L474.12 316.45L462.77 318.11L463.39 305.39ZM486.57 413.15L486.21 419.88L478.32 411.15ZM478.32 411.15L486.21 419.88L457.83 418.43L458.46 405.57ZM492.31 306.25L513.95 307.46L497.05 311.47ZM492.31 306.25L497.05 311.47L491.98 312.38ZM514.61 421.45L514.61 421.45L514.61 421.45ZM514.61 421.45L514.61 421.45L486.21 419.88L486.57 413.15ZM514.61 421.45L514.61 421.45L514.61 421.45Z" fill="#27d900" stroke="#27d900" stroke-width="0.6" stroke-linejoin="round"/>
<path d="M260.29 336.61L260.24 343.65L247.28 342.76L239.71 335.2ZM239.71 335.2L247.28 342.76L231.5 341.55L231.5 334.57ZM241.84 384.04L235.38 384.01L231.5 379.88L231.5 373.01ZM289.09 335.6L288.98 343.13L276.86 343.83L269.84 336.72ZM269.84 336.72L276.86 343.83L260.24 343.65L260.29 336.61ZM288.61 368.31L288.49 376.57L280.72 376.59L272.65 368.36ZM272.65 368.36L280.72 376.59L280.66 384.33L272.53 384.24ZM317.93 333.41L317.75 341.78L304.56 343.21L297.2 335.64ZM297.2 335.64L304.56 343.21L288.98 343.13L289.09 335.6ZM317.13 371.11L316.94 379.74L311.41 379.3L302.36 369.95ZM302.36 369.95L311.41 379.3L288.49 376.57L288.61 368.31ZM346.8 331.18L346.55 340.29L331.26 341.72L323.25 333.38ZM323.25 333.38L331.26 341.72L317.75 341.78L317.93 333.41ZM345.63 373.47L345.39 382.3L341.95 382.11L333.04 372.77ZM333.04 372.77L341.95 382.11L316.96 378.97L317.13 370.78ZM375.71 328.72L375.68 329.56L374.99 328.85ZM374.99 328.85L375.68 329.56L368.88 329.35ZM368.88 329.35L375.68 329.56L375.37 338.59L357.81 340.2L349.23 331.16ZM349.23 331.16L357.81 340.2L346.55 340.29L346.8 331.18ZM374.1 376.49L373.79 385.86L373.15 385.82L363.65 375.76ZM363.65 375.76L373.15 385.82L345.39 382.3L345.63 373.47ZM404.64 326.27L404.47 330.62L400.88 326.81ZM400.88 326.81L404.47 330.62L375.68 329.56L375.71 328.72ZM375.68 329.56L404.47 330.62L404.23 336.74L384 338.43ZM375.68 329.56L384 338.43L375.37 338.59ZM402.52 380.39L402.24 387.5L394.95 379.69ZM394.95 379.69L402.24 387.5L378.98 386.66L373.79 385.86L374.1 376.49ZM378.98 386.66L402.24 387.5L402.13 390.41ZM433.66 322.65L433.26 331.82L426.12 324.17ZM426.12 324.17L433.26 331.82L404.47 330.62L404.64 326.27ZM404.47 330.62L433.26 331.82L433.16 334.12L410.09 336.67ZM404.47 330.62L410.09 336.67L404.23 336.74ZM430.86 385.78L430.73 388.69L427.76 385.46ZM427.76 385.46L430.73 388.69L402.24 387.5L402.52 380.39ZM402.24 387.5L430.73 388.69L430.37 396.97L406.02 391.61ZM402.24 387.5L406.02 391.61L402.13 390.41ZM462.77 318.11L462.14 330.82L460.25 331.25L450.65 320.86ZM450.65 320.86L460.25 331.25L448.2 332.53L433.26 331.82L433.66 322.65ZM433.26 331.82L448.2 332.53L435.35 334.1ZM433.26 331.82L435.35 334.1L433.16 334.12ZM446.5 389.42L430.73 388.69L430.86 385.78ZM430.73 388.69L446.5 389.42L459.1 392.72L458.46 405.57L442.26 401.34ZM430.73 388.69L442.26 401.34L430.37 396.97ZM491.98 312.38L491.25 326.01L484.31 327.58L474.12 316.45ZM474.12 316.45L484.31 327.58L462.14 330.82L462.77 318.11ZM487.29 399.69L486.57 413.15L478.32 411.15L462.54 393.68ZM462.54 393.68L478.32 411.15L458.46 405.57L459.1 392.72ZM513.95 307.46L521.16 307.86L520.46 320.02L507.57 323.08L497.05 311.47ZM497.05 311.47L507.57 323.08L491.25 326.01L491.98 312.38ZM515.41 407.66L514.61 421.45L497.92 402.83ZM497.92 402.83L514.61 421.45L514.61 421.45L486.57 413.15L487.29 399.69ZM521.16 307.86L550 309.59L549.8 312.88L530.86 318.64ZM521.16 307.86L530.86 318.64L520.46 320.02ZM543.37 417.61L543.03 423.13L536.38 415.66ZM536.38 415.66L543.03 423.13L514.61 421.45L515.41 407.66ZM550 309.59L559.6 310.2L552.57 312.47ZM550 309.59L552.57 312.47L549.8 312.88ZM558.34 424.08L543.03 423.13L543.37 417.61Z" fill="#00d927" stroke="#00d927" stroke-width="0.6" stroke-linejoin="round"/>
<path d="M260.24 343.65L260.19 350.68L254.85 350.32L247.28 342.76ZM247.28 342.76L254.85 350.32L231.5 348.52L231.5 341.55ZM248.3 384.06L241.84 384.04L231.5 373.01L231.5 366.14ZM288.98 343.13L288.87 350.66L283.88 350.95L276.86 343.83ZM276.86 343.83L283.88 350.95L260.19 350.68L260.24 343.65ZM288.74 360.05L288.61 368.31L272.65 368.36L264.59 360.13ZM264.59 360.13L272.65 368.36L272.53 384.24L264.41 384.15ZM317.75 341.78L317.57 350.16L311.92 350.77L304.56 343.21ZM304.56 343.21L311.92 350.77L288.87 350.66L288.98 343.13ZM317.31 362.48L317.13 371.11L302.36 369.95L293.32 360.6ZM293.32 360.6L302.36 369.95L288.61 368.31L288.74 360.05ZM346.55 340.29L346.3 349.4L339.27 350.05L331.26 341.72ZM331.26 341.72L339.27 350.05L317.57 350.16L317.75 341.78ZM345.87 364.64L345.63 373.47L333.04 372.77L324.13 363.44ZM324.13 363.44L333.04 372.77L317.13 370.78L317.31 362.59ZM375.37 338.59L375.04 348.45L366.4 349.25L357.81 340.2ZM357.81 340.2L366.4 349.25L346.3 349.4L346.55 340.29ZM374.42 367.11L374.1 376.49L363.65 375.76L354.15 365.69ZM354.15 365.69L363.65 375.76L345.63 373.47L345.87 364.64ZM404.23 336.74L403.82 347.22L393.09 348.11L384 338.43ZM384 338.43L393.09 348.11L375.04 348.45L375.37 338.59ZM402.92 370.38L402.52 380.39L394.95 379.69L384.68 368.69ZM384.68 368.69L394.95 379.69L374.1 376.49L374.42 367.11ZM433.16 334.12L432.65 345.58L419.7 347.01L410.09 336.67ZM410.09 336.67L419.7 347.01L403.82 347.22L404.23 336.74ZM431.36 374.58L430.86 385.78L427.76 385.46L416.3 373.07ZM416.3 373.07L427.76 385.46L402.52 380.39L402.92 370.38ZM462.14 330.82L462.03 333.17L460.25 331.25ZM460.25 331.25L462.03 333.17L448.2 332.53ZM448.2 332.53L462.03 333.17L461.52 343.54L445.79 345.46L435.35 334.1ZM435.35 334.1L445.79 345.46L432.65 345.58L433.16 334.12ZM459.73 379.86L459.23 390.01L448.84 378.66ZM448.84 378.66L459.23 390.01L446.5 389.42L430.86 385.78L431.36 374.58ZM446.5 389.42L459.23 390.01L459.1 392.72ZM491.25 326.01L490.78 334.66L484.31 327.58ZM484.31 327.58L490.78 334.66L462.03 333.17L462.14 330.82ZM462.03 333.17L490.78 334.66L490.52 339.63L470.78 342.78ZM462.03 333.17L470.78 342.78L461.52 343.54ZM488.02 386.22L487.73 391.47L481.89 385.03ZM481.89 385.03L487.73 391.47L459.23 390.01L459.73 379.86ZM459.23 390.01L487.73 391.47L487.29 399.69L462.54 393.68ZM459.23 390.01L462.54 393.68L459.1 392.72ZM520.46 320.02L519.64 334.33L518.1 334.69L507.57 323.08ZM507.57 323.08L518.1 334.69L511.77 335.83L490.78 334.66L491.25 326.01ZM490.78 334.66L511.77 335.83L494.76 339.06ZM490.78 334.66L494.76 339.06L490.52 339.63ZM512.45 392.84L487.73 391.47L488.02 386.22ZM487.73 391.47L512.45 392.84L516.2 393.88L515.41 407.66L497.92 402.83ZM487.73 391.47L497.92 402.83L487.29 399.69ZM549.8 312.88L548.79 329.33L542.27 331.32L530.86 318.64ZM530.86 318.64L542.27 331.32L519.64 334.33L520.46 320.02ZM544.34 401.84L543.37 417.61L536.38 415.66L517.39 394.33ZM517.39 394.33L536.38 415.66L515.41 407.66L516.2 393.88ZM559.6 310.2L578.81 311.41L578.07 322.76L565.41 326.84L552.57 312.47ZM552.57 312.47L565.41 326.84L548.79 329.33L549.8 312.88ZM572.3 412.09L571.47 424.9L555.22 406.54ZM555.22 406.54L571.47 424.9L558.34 424.08L543.37 417.61L544.34 401.84ZM578.81 311.41L603.48 313.05L587.08 320.73ZM578.81 311.41L587.08 320.73L578.07 322.76ZM598.03 426.64L571.47 424.9L572.3 412.09Z" fill="#00d976" stroke="#00d976" stroke-width="0.6" stroke-linejoin="round"/>
<path d="M260.19 350.68L260.15 355.61L254.85 350.32ZM254.85 350.32L260.15 355.61L231.5 355.5L231.5 348.52ZM245.82 355.55L260.15 355.61L260.06 367.22ZM254.77 384.08L248.3 384.06L231.5 366.14L231.5 359.28ZM288.87 350.66L288.8 355.92L283.88 350.95ZM283.88 350.95L288.8 355.92L260.15 355.61L260.19 350.68ZM260.15 355.61L288.8 355.92L288.74 360.05L264.59 360.13ZM260.15 355.61L264.59 360.13L264.41 384.15L259.94 384.1ZM317.57 350.16L317.44 356.44L311.92 350.77ZM311.92 350.77L317.44 356.44L288.8 355.92L288.87 350.66ZM288.8 355.92L317.44 356.44L317.31 362.48L293.32 360.6ZM288.8 355.92L293.32 360.6L288.74 360.05ZM346.3 349.4L346.08 357.14L339.27 350.05ZM339.27 350.05L346.08 357.14L317.44 356.44L317.57 350.16ZM317.44 356.44L346.08 357.14L345.87 364.64L324.13 363.44ZM317.44 356.44L324.13 363.44L317.31 362.59ZM375.04 348.45L374.72 358.02L366.4 349.25ZM366.4 349.25L374.72 358.02L346.08 357.14L346.3 349.4ZM346.08 357.14L374.72 358.02L374.42 367.11L354.15 365.69ZM346.08 357.14L354.15 365.69L345.87 364.64ZM403.82 347.22L403.41 357.7L402.18 357.8L393.09 348.11ZM393.09 348.11L402.18 357.8L380.09 358.21L374.72 358.02L375.04 348.45ZM374.72 358.02L380.09 358.21L403.31 360.36L402.92 370.38L384.68 368.69ZM374.72 358.02L384.68 368.69L374.42 367.11ZM432.65 345.58L432.14 357.05L429.31 357.36L419.7 347.01ZM419.7 347.01L429.31 357.36L403.41 357.7L403.82 347.22ZM431.86 363.39L431.36 374.58L416.3 373.07L404.85 360.67ZM404.85 360.67L416.3 373.07L402.92 370.38L403.31 360.36ZM461.52 343.54L460.89 356.25L456.24 356.82L445.79 345.46ZM445.79 345.46L456.24 356.82L432.14 357.05L432.65 345.58ZM460.36 367L459.73 379.86L448.84 378.66L435.68 364.28ZM435.68 364.28L448.84 378.66L431.36 374.58L431.86 363.39ZM490.52 339.63L489.79 353.25L481.52 354.58L470.78 342.78ZM470.78 342.78L481.52 354.58L460.89 356.25L461.52 343.54ZM488.74 372.76L488.02 386.22L481.89 385.03L466.92 368.53ZM466.92 368.53L481.89 385.03L459.73 379.86L460.36 367ZM519.64 334.33L519.53 336.26L518.1 334.69ZM518.1 334.69L519.53 336.26L511.77 335.83ZM511.77 335.83L519.53 336.26L518.81 348.63L505.67 351.14L494.76 339.06ZM494.76 339.06L505.67 351.14L489.79 353.25L490.52 339.63ZM517 380.09L516.25 393.05L500.97 376.07ZM500.97 376.07L516.25 393.05L512.45 392.84L488.02 386.22L488.74 372.76ZM512.45 392.84L516.25 393.05L516.2 393.88ZM548.79 329.33L548.26 337.97L542.27 331.32ZM542.27 331.32L548.26 337.97L519.53 336.26L519.64 334.33ZM519.53 336.26L548.26 337.97L547.78 345.79L530.56 348.57ZM519.53 336.26L530.56 348.57L518.81 348.63ZM545.3 386.07L544.77 394.74L535.92 384.83ZM535.92 384.83L544.77 394.74L516.25 393.05L517 380.09ZM516.25 393.05L544.77 394.74L544.34 401.84L517.39 394.33ZM516.25 393.05L517.39 394.33L516.2 393.88ZM578.07 322.76L576.97 339.78L565.41 326.84ZM565.41 326.84L576.97 339.78L548.26 337.97L548.79 329.33ZM548.26 337.97L576.97 339.78L576.85 341.68L555.07 345.62ZM548.26 337.97L555.07 345.62L547.78 345.79ZM573.48 393.78L573.3 396.53L570.43 393.3ZM570.43 393.3L573.3 396.53L544.77 394.74L545.3 386.07ZM544.77 394.74L573.3 396.53L572.3 412.09L555.22 406.54ZM544.77 394.74L555.22 406.54L544.34 401.84ZM603.48 313.05L607.59 313.32L606.21 333.74L600.85 336.25L587.08 320.73ZM587.08 320.73L600.85 336.25L583.35 340.21L576.97 339.78L578.07 322.76ZM576.97 339.78L583.35 340.21L578.55 341.57ZM576.97 339.78L578.55 341.57L576.85 341.68ZM582.32 397.12L573.3 396.53L573.48 393.78ZM573.3 396.53L582.32 397.12L601.35 405.64L599.93 426.77ZM573.3 396.53L599.93 426.77L598.03 426.64L572.3 412.09ZM607.59 313.32L636.35 315.31L635.77 323.61L622.42 330.12ZM607.59 313.32L622.42 330.12L606.21 333.74ZM628.81 422.9L628.4 428.71L618.29 417.17ZM618.29 417.17L628.4 428.71L599.93 426.77L601.35 405.64ZM636.35 315.31L648.67 316.19L641.78 321.49ZM636.35 315.31L641.78 321.49L635.77 323.61ZM637.9 429.38L628.4 428.71L628.81 422.9Z" fill="#00d9c5" stroke="#00d9c5" stroke-width="0.6" stroke-linejoin="round"/>
<path d="M231.5 355.5L245.82 355.55L260.06 367.22L259.94 384.1ZM231.5 355.5L259.94 384.1L254.77 384.08L231.5 359.28ZM403.41 357.7L403.36 359.06L402.18 357.8ZM402.18 357.8L403.36 359.06L380.09 358.21ZM380.09 358.21L403.36 359.06L403.31 360.36ZM432.14 357.05L431.99 360.26L429.31 357.36ZM429.31 357.36L431.99 360.26L403.36 359.06L403.41 357.7ZM403.36 359.06L431.99 360.26L431.86 363.39L404.85 360.67ZM403.36 359.06L404.85 360.67L403.31 360.36ZM460.89 356.25L460.63 361.59L456.24 356.82ZM456.24 356.82L460.63 361.59L431.99 360.26L432.14 357.05ZM431.99 360.26L460.63 361.59L460.36 367L435.68 364.28ZM431.99 360.26L435.68 364.28L431.86 363.39ZM489.79 353.25L489.26 363.06L481.52 354.58ZM481.52 354.58L489.26 363.06L460.63 361.59L460.89 356.25ZM460.63 361.59L489.26 363.06L488.74 372.76L466.92 368.53ZM460.63 361.59L466.92 368.53L460.36 367ZM518.81 348.63L517.99 362.94L516.58 363.21L505.67 351.14ZM505.67 351.14L516.58 363.21L509.3 364.18L489.26 363.06L489.79 353.25ZM489.26 363.06L509.3 364.18L517.79 366.31L517 380.09L500.97 376.07ZM489.26 363.06L500.97 376.07L488.74 372.76ZM547.78 345.79L546.77 362.24L543.32 362.8L530.56 348.57ZM530.56 348.57L543.32 362.8L517.99 362.94L518.81 348.63ZM546.27 370.3L545.3 386.07L535.92 384.83L519.82 366.82ZM519.82 366.82L535.92 384.83L517 380.09L517.79 366.31ZM576.85 341.68L575.63 360.59L569.4 361.72L555.07 345.62ZM555.07 345.62L569.4 361.72L546.77 362.24L547.78 345.79ZM574.66 375.48L573.48 393.78L570.43 393.3L551.3 371.75ZM551.3 371.75L570.43 393.3L545.3 386.07L546.27 370.3ZM606.21 333.74L605.68 341.68L600.85 336.25ZM600.85 336.25L605.68 341.68L583.35 340.21ZM583.35 340.21L605.68 341.68L604.68 356.43L594.31 359.37L578.55 341.57ZM578.55 341.57L594.31 359.37L575.63 360.59L576.85 341.68ZM602.86 383.39L601.84 398.41L585.07 379.41ZM585.07 379.41L601.84 398.41L582.32 397.12L573.48 393.78L574.66 375.48ZM582.32 397.12L601.84 398.41L601.35 405.64ZM635.77 323.61L634.37 343.66L622.42 330.12ZM622.42 330.12L634.37 343.66L605.68 341.68L606.21 333.74ZM605.68 341.68L634.37 343.66L633.83 351.27L618.07 355.76ZM605.68 341.68L618.07 355.76L604.68 356.43ZM630.85 393.82L630.39 400.36L623.13 392.09ZM623.13 392.09L630.39 400.36L601.84 398.41L602.86 383.39ZM601.84 398.41L630.39 400.36L628.81 422.9L618.29 417.17ZM601.84 398.41L618.29 417.17L601.35 405.64ZM648.67 316.19L665.09 317.36L663.51 339.3L659.88 342.09L641.78 321.49ZM641.78 321.49L659.88 342.09L651.89 344.91L634.37 343.66L635.77 323.61ZM634.37 343.66L651.89 344.91L640.35 350.48ZM634.37 343.66L640.35 350.48L633.83 351.27ZM646.46 401.5L630.39 400.36L630.85 393.82ZM630.39 400.36L646.46 401.5L658.49 408.78L656.9 430.72ZM630.39 400.36L656.9 430.72L637.9 429.38L628.81 422.9ZM665.09 317.36L693.81 319.46L693.63 321.82L678.98 333.24ZM665.09 317.36L678.98 333.24L663.51 339.3ZM685.42 432.79L685.42 432.79L685.42 432.79ZM685.42 432.79L685.42 432.79L656.9 430.72L658.49 408.78ZM693.81 319.46L696.01 319.63L695.13 320.99ZM693.81 319.46L695.13 320.99L693.63 321.82ZM685.42 432.79L685.42 432.79L685.42 432.79Z" fill="#009dd9" stroke="#009dd9" stroke-width="0.6" stroke-linejoin="round"/>
<path d="M517.99 362.94L517.89 364.66L516.58 363.21ZM516.58 363.21L517.89 364.66L509.3 364.18ZM509.3 364.18L517.89 364.66L517.79 366.31ZM546.77 362.24L546.51 366.36L543.32 362.8ZM543.32 362.8L546.51 366.36L517.89 364.66L517.99 362.94ZM517.89 364.66L546.51 366.36L546.27 370.3L519.82 366.82ZM517.89 364.66L519.82 366.82L517.79 366.31ZM575.63 360.59L575.14 368.16L569.4 361.72ZM569.4 361.72L575.14 368.16L546.51 366.36L546.77 362.24ZM546.51 366.36L575.14 368.16L574.66 375.48L551.3 371.75ZM546.51 366.36L551.3 371.75L546.27 370.3ZM604.68 356.43L603.76 370.05L594.31 359.37ZM594.31 359.37L603.76 370.05L575.14 368.16L575.63 360.59ZM575.14 368.16L603.76 370.05L602.86 383.39L585.07 379.41ZM575.14 368.16L585.07 379.41L574.66 375.48ZM633.83 351.27L632.38 372.01L618.07 355.76ZM618.07 355.76L632.38 372.01L603.76 370.05L604.68 356.43ZM603.76 370.05L632.38 372.01L630.85 393.82L623.13 392.09ZM603.76 370.05L623.13 392.09L602.86 383.39ZM663.51 339.3L663.04 345.7L659.88 342.09ZM659.88 342.09L663.04 345.7L651.89 344.91ZM651.89 344.91L663.04 345.7L661 374.04L640.35 350.48ZM640.35 350.48L661 374.04L632.38 372.01L633.83 351.27ZM632.38 372.01L661 374.04L658.95 402.38ZM632.38 372.01L658.95 402.38L646.46 401.5L630.85 393.82ZM646.46 401.5L658.95 402.38L658.49 408.78ZM693.63 321.82L691.71 347.8L678.98 333.24ZM678.98 333.24L691.71 347.8L663.04 345.7L663.51 339.3ZM663.04 345.7L691.71 347.8L690.14 369.04L685.52 371.45ZM663.04 345.7L685.52 371.45L668.15 374.56L661 374.04ZM661 374.04L668.15 374.56L689.07 383.52L687.52 404.46ZM661 374.04L687.52 404.46L658.95 402.38ZM658.95 402.38L687.52 404.46L685.42 432.79ZM658.95 402.38L685.42 432.79L685.42 432.79L658.49 408.78ZM696.01 319.63L722.49 321.61L720.36 349.93L695.13 320.99ZM695.13 320.99L720.36 349.93L691.71 347.8L693.63 321.82ZM691.71 347.8L720.36 349.93L720.05 353.98L707.62 366.07ZM691.71 347.8L707.62 366.07L690.14 369.04ZM716.4 402.53L716.09 406.58L709.47 398.97ZM709.47 398.97L716.09 406.58L687.52 404.46L689.07 383.52ZM687.52 404.46L716.09 406.58L713.96 434.9ZM687.52 404.46L713.96 434.9L685.42 432.79ZM722.49 321.61L738.87 322.86L736.63 337.87ZM722.49 321.61L736.63 337.87L723.94 350.2L720.36 349.93ZM720.36 349.93L723.94 350.2L723.3 353.32ZM720.36 349.93L723.3 353.32L720.05 353.98ZM719.66 406.85L716.09 406.58L716.4 402.53ZM716.09 406.58L719.66 406.85L719.86 410.93ZM716.09 406.58L719.86 410.93L730.27 436.13L713.96 434.9Z" fill="#004fd9" stroke="#004fd9" stroke-width="0.6" stroke-linejoin="round"/>
<path d="M690.14 369.04L689.61 376.13L685.52 371.45ZM685.52 371.45L689.61 376.13L668.15 374.56ZM668.15 374.56L689.61 376.13L689.07 383.52ZM720.05 353.98L718.22 378.26L707.62 366.07ZM707.62 366.07L718.22 378.26L689.61 376.13L690.14 369.04ZM689.61 376.13L718.22 378.26L716.4 402.53L709.47 398.97ZM689.61 376.13L709.47 398.97L689.07 383.52ZM738.87 322.86L751.16 323.79L749 352.1L736.63 337.87ZM736.63 337.87L749 352.1L723.94 350.2ZM723.94 350.2L749 352.1L746.84 380.42L723.3 353.32ZM723.3 353.32L746.84 380.42L718.22 378.26L720.05 353.98ZM718.22 378.26L746.84 380.42L744.67 408.74ZM718.22 378.26L744.67 408.74L719.66 406.85L716.4 402.53ZM719.66 406.85L744.67 408.74L742.51 437.05L719.86 410.93ZM719.86 410.93L742.51 437.05L730.27 436.13ZM751.16 323.79L779.8 325.99L777.62 354.3ZM751.16 323.79L777.62 354.3L749 352.1ZM749 352.1L777.62 354.3L775.44 382.6ZM749 352.1L775.44 382.6L746.84 380.42ZM746.84 380.42L775.44 382.6L773.27 410.91ZM746.84 380.42L773.27 410.91L744.67 408.74ZM744.67 408.74L773.27 410.91L771.09 439.22ZM744.67 408.74L771.09 439.22L742.51 437.05ZM779.8 325.99L808.42 328.19L806.23 356.5ZM779.8 325.99L806.23 356.5L777.62 354.3ZM777.62 354.3L806.23 356.5L804.05 384.8ZM777.62 354.3L804.05 384.8L775.44 382.6ZM775.44 382.6L804.05 384.8L801.87 413.1ZM775.44 382.6L801.87 413.1L773.27 410.91ZM773.27 410.91L801.87 413.1L799.68 441.41ZM773.27 410.91L799.68 441.41L771.09 439.22Z" fill="#0000d9" stroke="#0000d9" stroke-width="0.6" stroke-linejoin="round"/>
<path d="M231.5 298.5L260.58 298.62L289.63 298.95L318.65 299.49L347.66 300.21L376.63 301.11L405.59 302.17L434.52 303.39L463.42 304.75L492.31 306.25L521.16 307.86L550 309.59L578.81 311.41L607.59 313.32L636.35 315.31L665.09 317.36L693.81 319.46L722.49 321.61L751.16 323.79L779.8 325.99L808.42 328.19M231.5 327L260.36 327.11L289.21 327.44L318.05 327.96L346.87 328.67L375.68 329.56L404.47 330.62L433.26 331.82L462.03 333.17L490.78 334.66L519.53 336.26L548.26 337.97L576.97 339.78L605.68 341.68L634.37 343.66L663.04 345.7L691.71 347.8L720.36 349.93L749 352.1L777.62 354.3L806.23 356.5M231.5 355.5L260.15 355.61L288.8 355.92L317.44 356.44L346.08 357.14L374.72 358.02L403.36 359.06L431.99 360.26L460.63 361.59L489.26 363.06L517.89 364.66L546.51 366.36L575.14 368.16L603.76 370.05L632.38 372.01L661 374.04L689.61 376.13L718.22 378.26L746.84 380.42L775.44 382.6L804.05 384.8M231.5 384L259.94 384.1L288.38 384.41L316.83 384.92L345.3 385.61L373.77 386.47L402.24 387.5L430.73 388.69L459.23 390.01L487.73 391.47L516.25 393.05L544.77 394.74L573.3 396.53L601.84 398.41L630.39 400.36L658.95 402.38L687.52 404.46L716.09 406.58L744.67 408.74L773.27 410.91L801.87 413.1M231.5 412.5L259.72 412.6L287.96 412.9L316.23 413.39L344.51 414.07L372.81 414.93L401.13 415.95L429.47 417.12L457.83 418.43L486.21 419.88L514.61 421.45L543.03 423.13L571.47 424.9L599.93 426.77L628.4 428.71L656.9 430.72L685.42 432.79L713.96 434.9L742.51 437.05L771.09 439.22L799.68 441.41M231.5 298.5L231.5 412.5M260.58 298.62L259.72 412.6M289.63 298.95L287.96 412.9M318.65 299.49L316.23 413.39M347.66 300.21L344.51 414.07M376.63 301.11L372.81 414.93M405.59 302.17L401.13 415.95M434.52 303.39L429.47 417.12M463.42 304.75L457.83 418.43M492.31 306.25L486.21 419.88M521.16 307.86L514.61 421.45M550 309.59L543.03 423.13M578.81 311.41L571.47 424.9M607.59 313.32L599.93 426.77M636.35 315.31L628.4 428.71M665.09 317.36L656.9 430.72M693.81 319.46L685.42 432.79M722.49 321.61L713.96 434.9M751.16 323.79L742.51 437.05M779.8 325.99L771.09 439.22M808.42 328.19L799.68 441.41" stroke="#000" stroke-width="1" fill="none" opacity="0.95"/>
<rect x="25.5" y="277.5" width="132" height="206" fill="#ffffff" stroke="#000" stroke-width="1"/>
<text x="37.7" y="301.6" class="lg" textLength="49.6" lengthAdjust="spacingAndGlyphs">S, Mises</text>
<text x="37.7" y="315.8" class="lg" textLength="69.6" lengthAdjust="spacingAndGlyphs">(Avg: 75%)</text>
<rect x="37.5" y="328.5" width="18" height="11.1" fill="#ff0000"/>
<rect x="37.5" y="339.5" width="18" height="12.1" fill="#ff5d00"/>
<rect x="37.5" y="351.5" width="18" height="12.1" fill="#ffb900"/>
<rect x="37.5" y="363.5" width="18" height="12.1" fill="#e8ff00"/>
<rect x="37.5" y="375.5" width="18" height="12.1" fill="#8bff00"/>
<rect x="37.5" y="387.5" width="18" height="12.1" fill="#2eff00"/>
<rect x="37.5" y="399.5" width="18" height="12.1" fill="#00ff2e"/>
<rect x="37.5" y="411.5" width="18" height="12.1" fill="#00ff8b"/>
<rect x="37.5" y="423.5" width="18" height="12.1" fill="#00ffe8"/>
<rect x="37.5" y="435.5" width="18" height="12.1" fill="#00b9ff"/>
<rect x="37.5" y="447.5" width="18" height="12.1" fill="#005dff"/>
<rect x="37.5" y="459.5" width="18" height="12.1" fill="#0000ff"/>
<path d="M37.5 328V472M55.5 328V472M37 328.5H62M37 339.5H62M37 351.5H62M37 363.5H62M37 375.5H62M37 387.5H62M37 399.5H62M37 411.5H62M37 423.5H62M37 435.5H62M37 447.5H62M37 459.5H62M37 471.5H62" stroke="#000" stroke-width="1" fill="none"/>
<text x="68" y="331.9" class="lg" textLength="76.5" lengthAdjust="spacingAndGlyphs">+2.276e+03</text>
<text x="68" y="342.9" class="lg" textLength="76.5" lengthAdjust="spacingAndGlyphs">+2.098e+03</text>
<text x="68" y="354.9" class="lg" textLength="76.5" lengthAdjust="spacingAndGlyphs">+1.921e+03</text>
<text x="68" y="366.9" class="lg" textLength="76.5" lengthAdjust="spacingAndGlyphs">+1.743e+03</text>
<text x="68" y="378.9" class="lg" textLength="76.5" lengthAdjust="spacingAndGlyphs">+1.566e+03</text>
<text x="68" y="390.9" class="lg" textLength="76.5" lengthAdjust="spacingAndGlyphs">+1.388e+03</text>
<text x="68" y="402.9" class="lg" textLength="76.5" lengthAdjust="spacingAndGlyphs">+1.211e+03</text>
<text x="68" y="414.9" class="lg" textLength="76.5" lengthAdjust="spacingAndGlyphs">+1.033e+03</text>
<text x="68" y="426.9" class="lg" textLength="76.5" lengthAdjust="spacingAndGlyphs">+8.557e+02</text>
<text x="68" y="438.9" class="lg" textLength="76.5" lengthAdjust="spacingAndGlyphs">+6.782e+02</text>
<text x="68" y="450.9" class="lg" textLength="76.5" lengthAdjust="spacingAndGlyphs">+5.006e+02</text>
<text x="68" y="462.9" class="lg" textLength="76.5" lengthAdjust="spacingAndGlyphs">+3.231e+02</text>
<text x="68" y="474.9" class="lg" textLength="76.5" lengthAdjust="spacingAndGlyphs">+1.456e+02</text>
<text x="84.9" y="470.5" class="tr">X</text>
<circle cx="88.6" cy="468.1" r="1.7" fill="none" stroke="#e80000" stroke-width="1.2"/>
<path d="M88.8 467.8H97.8" stroke="#0000c8" stroke-width="2"/>
<path d="M101.2 467.8l-4.4 -1.9v3.8z" fill="#0000c8"/>
<path d="M88.8 468.3V455.3" stroke="#00c400" stroke-width="2"/>
<text x="84.4" y="447.6" class="tr">Y</text>
<text x="108" y="470.7" class="tr">Z</text>
</g>
<g clip-path="url(#vp3)">
<polygon points="475,686 581.4,686 579,689.4 478.5,689.4" fill="#00006c" stroke="#00002a" stroke-width="0.8"/>
<path d="M446.5 523.5L450.89 523.5L446.77 523.77ZM446.5 523.5L446.77 523.77L446.5 523.8ZM603.67 523.5L610.5 523.5L610.5 524ZM485.59 645.5L487.5 645.5L487.5 672.83ZM473.83 686.5L446.5 686.5L446.5 684.59ZM569.5 645.5L572.88 645.5L610.5 682.86L610.5 686.5ZM569.5 645.5L610.5 686.5L583.64 686.5L569.5 671.59Z" fill="#d90000" stroke="#d90000" stroke-width="0.6" stroke-linejoin="round"/>
<path d="M450.89 523.5L487.5 523.5L487.5 530.82L455.93 532.93L446.77 523.77ZM446.77 523.77L455.93 532.93L446.5 533.8L446.5 523.8ZM487.5 523.5L528.5 523.5L528.5 526.96L494.26 530.26ZM487.5 523.5L494.26 530.26L487.5 530.82ZM528.5 523.5L569.5 523.5L569.5 530.82L532.28 527.28ZM528.5 523.5L532.28 527.28L528.5 526.96ZM569.5 523.5L603.67 523.5L610.5 524L610.5 534L577.59 531.59ZM569.5 523.5L577.59 531.59L569.5 530.82ZM476.06 645.5L485.59 645.5L487.5 672.83L487.5 686.5L478.27 677.27ZM478.27 677.27L487.5 686.5L473.83 686.5L446.5 684.59L446.5 675.06ZM487.5 645.5L491.71 645.5L528.5 680.5L528.5 686.5ZM487.5 645.5L528.5 686.5L487.5 686.5ZM566.14 645.5L569.5 645.5L569.5 686.5L562.21 679.21ZM562.21 679.21L569.5 686.5L528.5 686.5L528.5 682.5ZM572.88 645.5L582.52 645.5L610.5 673.28L610.5 682.86ZM583.64 686.5L569.5 686.5L569.5 671.59Z" fill="#d94f00" stroke="#d94f00" stroke-width="0.6" stroke-linejoin="round"/>
<path d="M487.5 530.82L487.5 540.58L465.08 542.08L455.93 532.93ZM455.93 532.93L465.08 542.08L446.5 543.8L446.5 533.8ZM528.5 526.96L528.5 536.84L503.27 539.27L494.26 530.26ZM494.26 530.26L503.27 539.27L487.5 540.58L487.5 530.82ZM569.5 530.82L569.5 540.58L543.07 538.07L532.28 527.28ZM532.28 527.28L543.07 538.07L528.5 536.84L528.5 526.96ZM610.5 534L610.5 544L588.38 542.38L577.59 531.59ZM577.59 531.59L588.38 542.38L569.5 540.58L569.5 530.82ZM466.52 645.5L476.06 645.5L478.27 677.27L468.02 667.02ZM468.02 667.02L478.27 677.27L446.5 675.06L446.5 665.52ZM491.71 645.5L502.22 645.5L528.5 670.5L528.5 680.5ZM555.97 645.5L566.14 645.5L562.21 679.21L553.1 670.1ZM553.1 670.1L562.21 679.21L528.5 682.5L528.5 672.5ZM582.52 645.5L592.17 645.5L610.5 663.7L610.5 673.28Z" fill="#d99d00" stroke="#d99d00" stroke-width="0.6" stroke-linejoin="round"/>
<path d="M487.5 540.58L487.5 550.35L474.23 551.23L465.08 542.08ZM465.08 542.08L474.23 551.23L446.5 553.8L446.5 543.8ZM528.5 536.84L528.5 546.72L512.28 548.28L503.27 539.27ZM503.27 539.27L512.28 548.28L487.5 550.35L487.5 540.58ZM569.5 540.58L569.5 550.35L553.86 548.86L543.07 538.07ZM543.07 538.07L553.86 548.86L528.5 546.72L528.5 536.84ZM610.5 544L610.5 554L599.17 553.17L588.38 542.38ZM588.38 542.38L599.17 553.17L569.5 550.35L569.5 540.58ZM456.99 645.5L466.52 645.5L468.02 667.02L457.77 656.77ZM457.77 656.77L468.02 667.02L446.5 665.52L446.5 655.99ZM502.22 645.5L512.73 645.5L528.5 660.5L528.5 670.5ZM545.8 645.5L555.97 645.5L553.1 670.1L543.99 660.99ZM543.99 660.99L553.1 670.1L528.5 672.5L528.5 662.5ZM592.17 645.5L601.82 645.5L610.5 654.12L610.5 663.7Z" fill="#c5d900" stroke="#c5d900" stroke-width="0.6" stroke-linejoin="round"/>
<path d="M487.5 550.35L487.5 560.11L483.38 560.38L474.23 551.23ZM474.23 551.23L483.38 560.38L446.5 563.8L446.5 553.8ZM528.5 546.72L528.5 556.6L521.29 557.29L512.28 548.28ZM512.28 548.28L521.29 557.29L487.5 560.11L487.5 550.35ZM569.5 550.35L569.5 560.11L564.64 559.64L553.86 548.86ZM553.86 548.86L564.64 559.64L528.5 556.6L528.5 546.72ZM610.5 554L610.5 564L609.96 563.96L599.17 553.17ZM599.17 553.17L609.96 563.96L569.5 560.11L569.5 550.35ZM447.45 645.5L456.99 645.5L457.77 656.77L447.52 646.52ZM447.52 646.52L457.77 656.77L446.5 655.99L446.5 646.45ZM512.73 645.5L523.24 645.5L528.5 650.5L528.5 660.5ZM535.62 645.5L545.8 645.5L543.99 660.99L534.88 651.88ZM534.88 651.88L543.99 660.99L528.5 662.5L528.5 652.5ZM601.82 645.5L610.5 645.5L610.5 654.12Z" fill="#76d900" stroke="#76d900" stroke-width="0.6" stroke-linejoin="round"/>
<path d="M487.5 560.11L487.5 564.5L483.38 560.38ZM483.38 560.38L487.5 564.5L446.5 564.5L446.5 563.8ZM528.5 556.6L528.5 564.5L521.29 557.29ZM521.29 557.29L528.5 564.5L487.5 564.5L487.5 560.11ZM569.5 560.11L569.5 564.5L564.64 559.64ZM564.64 559.64L569.5 564.5L528.5 564.5L528.5 556.6ZM610.5 564L610.5 564.5L609.96 563.96ZM609.96 563.96L610.5 564.5L569.5 564.5L569.5 560.11ZM446.5 564.5L487.5 564.5L487.5 570.36L454.33 572.33ZM446.5 564.5L454.33 572.33L446.5 572.7ZM487.5 564.5L528.5 564.5L528.5 568.4L493.09 570.09ZM487.5 564.5L493.09 570.09L487.5 570.36ZM528.5 564.5L569.5 564.5L569.5 570.36L532.6 568.6ZM528.5 564.5L532.6 568.6L528.5 568.4ZM569.5 564.5L610.5 564.5L610.5 572.7L575.65 570.65ZM569.5 564.5L575.65 570.65L569.5 570.36ZM453.1 645.5L446.5 645.5L446.5 639.06ZM528.5 640.85L528.5 645.5L523.62 640.74ZM523.62 640.74L528.5 645.5L523.84 645.5ZM533.38 645.5L528.5 645.5L528.5 640.85ZM610.5 636.66L610.5 645.5L601.84 637.06ZM601.84 637.06L610.5 645.5L601.44 645.5ZM446.5 645.5L447.45 645.5L447.52 646.52ZM446.5 645.5L447.52 646.52L446.5 646.45ZM523.24 645.5L528.5 645.5L528.5 650.5ZM528.5 645.5L535.62 645.5L534.88 651.88ZM528.5 645.5L534.88 651.88L528.5 652.5Z" fill="#27d900" stroke="#27d900" stroke-width="0.6" stroke-linejoin="round"/>
<path d="M487.5 570.36L487.5 580.12L463.54 581.54L454.33 572.33ZM454.33 572.33L463.54 581.54L446.5 582.35L446.5 572.7ZM528.5 568.4L528.5 578.17L502.41 579.41L493.09 570.09ZM493.09 570.09L502.41 579.41L487.5 580.12L487.5 570.36ZM569.5 570.36L569.5 580.12L542.85 578.85L532.6 568.6ZM532.6 568.6L542.85 578.85L528.5 578.17L528.5 568.4ZM610.5 572.7L610.5 582.35L585.9 580.9L575.65 570.65ZM575.65 570.65L585.9 580.9L569.5 580.12L569.5 570.36ZM462.52 645.5L453.1 645.5L446.5 639.06L446.5 629.87ZM528.5 631.55L528.5 640.85L523.62 640.74L513.86 631.21ZM513.86 631.21L523.62 640.74L523.84 645.5L514.52 645.5ZM543.14 645.5L533.38 645.5L528.5 640.85L528.5 631.55ZM610.5 627.36L610.5 636.66L601.84 637.06L592.73 628.17ZM592.73 628.17L601.84 637.06L601.44 645.5L591.91 645.5Z" fill="#00d927" stroke="#00d927" stroke-width="0.6" stroke-linejoin="round"/>
<path d="M487.5 580.12L487.5 589.88L472.76 590.76L463.54 581.54ZM463.54 581.54L472.76 590.76L446.5 591.99L446.5 582.35ZM528.5 578.17L528.5 587.93L511.73 588.73L502.41 579.41ZM502.41 579.41L511.73 588.73L487.5 589.88L487.5 580.12ZM569.5 580.12L569.5 589.88L553.1 589.1L542.85 578.85ZM542.85 578.85L553.1 589.1L528.5 587.93L528.5 578.17ZM610.5 582.35L610.5 591.99L596.15 591.15L585.9 580.9ZM585.9 580.9L596.15 591.15L569.5 589.88L569.5 580.12ZM471.95 645.5L462.52 645.5L446.5 629.87L446.5 620.67ZM528.5 622.24L528.5 631.55L513.86 631.21L504.1 621.69ZM504.1 621.69L513.86 631.21L514.52 645.5L505.2 645.5ZM552.9 645.5L543.14 645.5L528.5 631.55L528.5 622.24ZM610.5 618.06L610.5 627.36L592.73 628.17L583.62 619.28ZM583.62 619.28L592.73 628.17L591.91 645.5L582.37 645.5Z" fill="#00d976" stroke="#00d976" stroke-width="0.6" stroke-linejoin="round"/>
<path d="M487.5 589.88L487.5 599.64L481.97 599.97L472.76 590.76ZM472.76 590.76L481.97 599.97L446.5 601.64L446.5 591.99ZM528.5 587.93L528.5 597.69L521.05 598.05L511.73 588.73ZM511.73 588.73L521.05 598.05L487.5 599.64L487.5 589.88ZM569.5 589.88L569.5 599.64L563.35 599.35L553.1 589.1ZM553.1 589.1L563.35 599.35L528.5 597.69L528.5 587.93ZM610.5 591.99L610.5 601.64L606.4 601.4L596.15 591.15ZM596.15 591.15L606.4 601.4L569.5 599.64L569.5 589.88ZM481.37 645.5L471.95 645.5L446.5 620.67L446.5 611.48ZM528.5 612.94L528.5 622.24L504.1 621.69L494.33 612.17ZM494.33 612.17L504.1 621.69L505.2 645.5L495.89 645.5ZM562.67 645.5L552.9 645.5L528.5 622.24L528.5 612.94ZM610.5 608.76L610.5 618.06L583.62 619.28L574.51 610.39ZM574.51 610.39L583.62 619.28L582.37 645.5L572.84 645.5Z" fill="#00d9c5" stroke="#00d9c5" stroke-width="0.6" stroke-linejoin="round"/>
<path d="M487.5 599.64L487.5 605.5L481.97 599.97ZM481.97 599.97L487.5 605.5L446.5 605.5L446.5 601.64ZM528.5 597.69L528.5 605.5L521.05 598.05ZM521.05 598.05L528.5 605.5L487.5 605.5L487.5 599.64ZM569.5 599.64L569.5 605.5L563.35 599.35ZM563.35 599.35L569.5 605.5L528.5 605.5L528.5 597.69ZM610.5 601.64L610.5 605.5L606.4 601.4ZM606.4 601.4L610.5 605.5L569.5 605.5L569.5 599.64ZM446.5 605.5L487.5 605.5L487.5 645.5ZM446.5 605.5L487.5 645.5L481.37 645.5L446.5 611.48ZM487.5 605.5L528.5 605.5L528.5 612.94L494.33 612.17ZM487.5 605.5L494.33 612.17L495.89 645.5L487.5 645.5ZM528.5 605.5L569.5 605.5L569.5 645.5ZM528.5 605.5L569.5 645.5L562.67 645.5L528.5 612.94ZM569.5 605.5L610.5 605.5L610.5 608.76L574.51 610.39ZM569.5 605.5L574.51 610.39L572.84 645.5L569.5 645.5Z" fill="#009dd9" stroke="#009dd9" stroke-width="0.6" stroke-linejoin="round"/>
<path d="M446.5 564.5H610.5M487.5 523.5V686.5M446.5 605.5H610.5M528.5 523.5V686.5M446.5 645.5H610.5M569.5 523.5V686.5" stroke="#000" stroke-width="1" fill="none"/>
<rect x="446.5" y="523.5" width="164" height="163" stroke="#404040" stroke-width="1" fill="none"/>
<rect x="25.5" y="523.5" width="132" height="206" fill="#ffffff" stroke="#000" stroke-width="1"/>
<text x="37.7" y="547.6" class="lg" textLength="49.6" lengthAdjust="spacingAndGlyphs">S, Mises</text>
<text x="37.7" y="561.8" class="lg" textLength="69.6" lengthAdjust="spacingAndGlyphs">(Avg: 75%)</text>
<rect x="37.5" y="574.5" width="18" height="11.1" fill="#ff0000"/>
<rect x="37.5" y="585.5" width="18" height="12.1" fill="#ff5d00"/>
<rect x="37.5" y="597.5" width="18" height="12.1" fill="#ffb900"/>
<rect x="37.5" y="609.5" width="18" height="12.1" fill="#e8ff00"/>
<rect x="37.5" y="621.5" width="18" height="12.1" fill="#8bff00"/>
<rect x="37.5" y="633.5" width="18" height="12.1" fill="#2eff00"/>
<rect x="37.5" y="645.5" width="18" height="12.1" fill="#00ff2e"/>
<rect x="37.5" y="657.5" width="18" height="12.1" fill="#00ff8b"/>
<rect x="37.5" y="669.5" width="18" height="12.1" fill="#00ffe8"/>
<rect x="37.5" y="681.5" width="18" height="12.1" fill="#00b9ff"/>
<rect x="37.5" y="693.5" width="18" height="12.1" fill="#005dff"/>
<rect x="37.5" y="705.5" width="18" height="12.1" fill="#0000ff"/>
<path d="M37.5 574V718M55.5 574V718M37 574.5H62M37 585.5H62M37 597.5H62M37 609.5H62M37 621.5H62M37 633.5H62M37 645.5H62M37 657.5H62M37 669.5H62M37 681.5H62M37 693.5H62M37 705.5H62M37 717.5H62" stroke="#000" stroke-width="1" fill="none"/>
<text x="68" y="577.9" class="lg" textLength="76.5" lengthAdjust="spacingAndGlyphs">+2.276e+03</text>
<text x="68" y="588.9" class="lg" textLength="76.5" lengthAdjust="spacingAndGlyphs">+2.098e+03</text>
<text x="68" y="600.9" class="lg" textLength="76.5" lengthAdjust="spacingAndGlyphs">+1.921e+03</text>
<text x="68" y="612.9" class="lg" textLength="76.5" lengthAdjust="spacingAndGlyphs">+1.743e+03</text>
<text x="68" y="624.9" class="lg" textLength="76.5" lengthAdjust="spacingAndGlyphs">+1.566e+03</text>
<text x="68" y="636.9" class="lg" textLength="76.5" lengthAdjust="spacingAndGlyphs">+1.388e+03</text>
<text x="68" y="648.9" class="lg" textLength="76.5" lengthAdjust="spacingAndGlyphs">+1.211e+03</text>
<text x="68" y="660.9" class="lg" textLength="76.5" lengthAdjust="spacingAndGlyphs">+1.033e+03</text>
<text x="68" y="672.9" class="lg" textLength="76.5" lengthAdjust="spacingAndGlyphs">+8.557e+02</text>
<text x="68" y="684.9" class="lg" textLength="76.5" lengthAdjust="spacingAndGlyphs">+6.782e+02</text>
<text x="68" y="696.9" class="lg" textLength="76.5" lengthAdjust="spacingAndGlyphs">+5.006e+02</text>
<text x="68" y="708.9" class="lg" textLength="76.5" lengthAdjust="spacingAndGlyphs">+3.231e+02</text>
<text x="68" y="720.9" class="lg" textLength="76.5" lengthAdjust="spacingAndGlyphs">+1.456e+02</text>
<path d="M88.8 713.7H79.8" stroke="#d80000" stroke-width="2"/>
<path d="M76 713.7l4.4 -1.9v3.8z" fill="#d80000"/>
<rect x="87.3" y="711.9" width="3.8" height="3.8" rx="1" fill="#0000e0"/>
<path d="M88.8 713.2V701.2" stroke="#00c400" stroke-width="2"/>
<text x="84.4" y="694.1" class="tr">Y</text>
<text x="61.6" y="716.9" class="tr" style="font-size:12px">X</text>
</g>
</svg>
</body></html>
